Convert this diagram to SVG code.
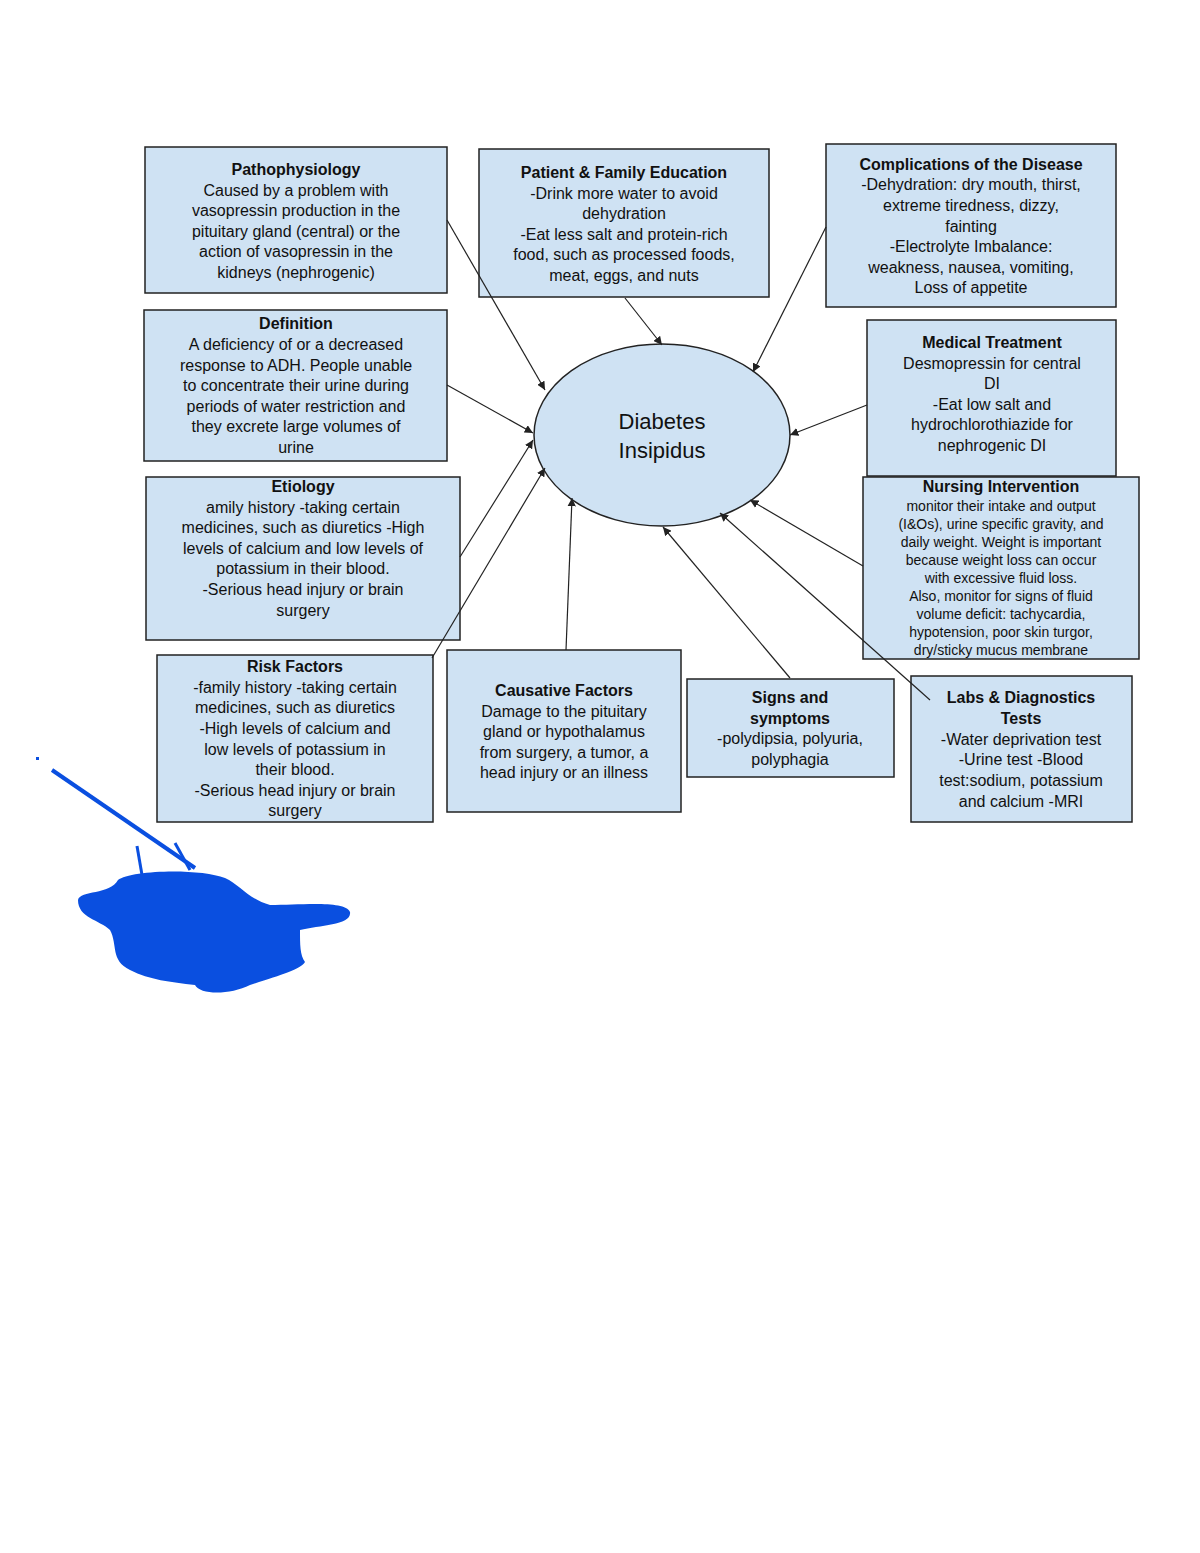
<svg xmlns="http://www.w3.org/2000/svg" width="1200" height="1553" viewBox="0 0 1200 1553">
<defs>
<style>
.b{fill:#cfe2f3;stroke:#222;stroke-width:1.5}
text{font-family:"Liberation Sans",Arial,sans-serif;font-size:16px;fill:#111;text-anchor:middle}
.h{font-weight:bold}
.s{font-size:14px}
.c line{stroke:#222;stroke-width:1.2;marker-end:url(#a)}
</style>
<marker id="a" viewBox="0 0 10 10" refX="10" refY="5" markerWidth="7" markerHeight="7" orient="auto"><path d="M0,0L10,5L0,10z" fill="#222"/></marker>
</defs>
<rect width="1200" height="1553" fill="#fff"/>
<g id="center"><ellipse cx="662" cy="435" rx="128" ry="91" class="b"/>
<text x="662" y="429" style="font-size:22px">Diabetes</text><text x="662" y="458" style="font-size:22px">Insipidus</text></g>
<g id="patho"><rect x="145" y="147" width="302" height="146" class="b"/>
<text x="296" y="175" class="h">Pathophysiology</text>
<text x="296" y="196">Caused by a problem with</text>
<text x="296" y="216">vasopressin production in the</text>
<text x="296" y="237">pituitary gland (central) or the</text>
<text x="296" y="257">action of vasopressin in the</text>
<text x="296" y="278">kidneys (nephrogenic)</text></g>
<g id="edu"><rect x="479" y="149" width="290" height="148" class="b"/>
<text x="624" y="178" class="h">Patient &amp; Family Education</text>
<text x="624" y="199">-Drink more water to avoid</text>
<text x="624" y="219">dehydration</text>
<text x="624" y="240">-Eat less salt and protein-rich</text>
<text x="624" y="260">food, such as processed foods,</text>
<text x="624" y="281">meat, eggs, and nuts</text></g>
<g id="comp"><rect x="826" y="144" width="290" height="163" class="b"/>
<text x="971" y="170" class="h">Complications of the Disease</text>
<text x="971" y="190">-Dehydration: dry mouth, thirst,</text>
<text x="971" y="211">extreme tiredness, dizzy,</text>
<text x="971" y="232">fainting</text>
<text x="971" y="252">-Electrolyte Imbalance:</text>
<text x="971" y="273">weakness, nausea, vomiting,</text>
<text x="971" y="293">Loss of appetite</text></g>
<g id="def"><rect x="144" y="310" width="303" height="151" class="b"/>
<text x="296" y="329" class="h">Definition</text>
<text x="296" y="350">A deficiency of or a decreased</text>
<text x="296" y="371">response to ADH. People unable</text>
<text x="296" y="391">to concentrate their urine during</text>
<text x="296" y="412">periods of water restriction and</text>
<text x="296" y="432">they excrete large volumes of</text>
<text x="296" y="453">urine</text></g>
<g id="med"><rect x="867" y="320" width="249" height="156" class="b"/>
<text x="992" y="348" class="h">Medical Treatment</text>
<text x="992" y="369">Desmopressin for central</text>
<text x="992" y="389">DI</text>
<text x="992" y="410">-Eat low salt and</text>
<text x="992" y="430">hydrochlorothiazide for</text>
<text x="992" y="451">nephrogenic DI</text></g>
<g id="etio"><rect x="146" y="477" width="314" height="163" class="b"/>
<text x="303" y="492" class="h">Etiology</text>
<text x="303" y="513">amily history -taking certain</text>
<text x="303" y="533">medicines, such as diuretics -High</text>
<text x="303" y="554">levels of calcium and low levels of</text>
<text x="303" y="574">potassium in their blood.</text>
<text x="303" y="595">-Serious head injury or brain</text>
<text x="303" y="616">surgery</text></g>
<g id="nurs"><rect x="863" y="477" width="276" height="182" class="b"/>
<text x="1001" y="492" class="h">Nursing Intervention</text>
<text x="1001" y="511" class="s">monitor their intake and output</text>
<text x="1001" y="529" class="s">(I&amp;Os), urine specific gravity, and</text>
<text x="1001" y="547" class="s">daily weight. Weight is important</text>
<text x="1001" y="565" class="s">because weight loss can occur</text>
<text x="1001" y="583" class="s">with excessive fluid loss.</text>
<text x="1001" y="601" class="s">Also, monitor for signs of fluid</text>
<text x="1001" y="619" class="s">volume deficit: tachycardia,</text>
<text x="1001" y="637" class="s">hypotension, poor skin turgor,</text>
<text x="1001" y="655" class="s">dry/sticky mucus membrane</text></g>
<g id="risk"><rect x="157" y="655" width="276" height="167" class="b"/>
<text x="295" y="672" class="h">Risk Factors</text>
<text x="295" y="693">-family history -taking certain</text>
<text x="295" y="713">medicines, such as diuretics</text>
<text x="295" y="734">-High levels of calcium and</text>
<text x="295" y="755">low levels of potassium in</text>
<text x="295" y="775">their blood.</text>
<text x="295" y="796">-Serious head injury or brain</text>
<text x="295" y="816">surgery</text></g>
<g id="cause"><rect x="447" y="650" width="234" height="162" class="b"/>
<text x="564" y="696" class="h">Causative Factors</text>
<text x="564" y="717">Damage to the pituitary</text>
<text x="564" y="737">gland or hypothalamus</text>
<text x="564" y="758">from surgery, a tumor, a</text>
<text x="564" y="778">head injury or an illness</text></g>
<g id="signs"><rect x="687" y="679" width="207" height="98" class="b"/>
<text x="790" y="703" class="h">Signs and</text>
<text x="790" y="724" class="h">symptoms</text>
<text x="790" y="744">-polydipsia, polyuria,</text>
<text x="790" y="765">polyphagia</text></g>
<g id="labs"><rect x="911" y="676" width="221" height="146" class="b"/>
<text x="1021" y="703" class="h">Labs &amp; Diagnostics</text>
<text x="1021" y="724" class="h">Tests</text>
<text x="1021" y="745">-Water deprivation test</text>
<text x="1021" y="765">-Urine test -Blood</text>
<text x="1021" y="786">test:sodium, potassium</text>
<text x="1021" y="807">and calcium -MRI</text></g>
<g class="c">
<line x1="447" y1="220" x2="545" y2="390"/>
<line x1="625" y1="298" x2="662" y2="345"/>
<line x1="826" y1="227" x2="753" y2="372"/>
<line x1="447" y1="385" x2="533" y2="433"/>
<line x1="867" y1="405" x2="790" y2="435"/>
<line x1="460" y1="557" x2="533" y2="440"/>
<line x1="432" y1="658" x2="545" y2="468"/>
<line x1="566" y1="650" x2="572" y2="498"/>
<line x1="790" y1="678" x2="663" y2="527"/>
<line x1="863" y1="566" x2="750" y2="500"/>
<line x1="930" y1="700" x2="720" y2="513"/>
</g>
<g id="scribble" fill="#0a4fe0" stroke="#0a4fe0">
<rect x="36" y="757" width="3" height="3" stroke="none"/>
<line x1="52" y1="770" x2="195" y2="868" stroke-width="4"/>
<line x1="137" y1="846" x2="142" y2="875" stroke-width="3"/>
<line x1="175" y1="843" x2="190" y2="870" stroke-width="3"/>
<path d="M78,900 C80,890 110,895 118,880 C130,870 200,868 225,878 C240,885 250,900 270,905 C300,905 345,900 350,912 C352,925 320,925 300,930 C300,945 300,955 305,962 C300,970 280,975 250,985 C230,995 200,995 195,985 C170,982 150,980 130,970 C110,960 118,945 110,930 C100,920 78,918 78,900 Z" stroke="none"/>
</g>
</svg>
